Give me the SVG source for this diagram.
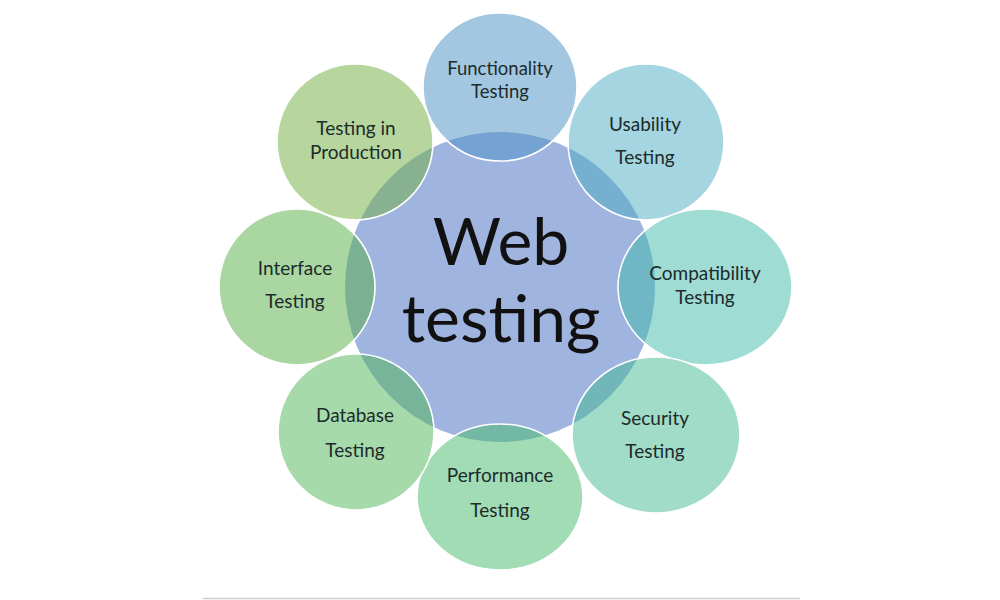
<svg xmlns="http://www.w3.org/2000/svg" width="1000" height="600" viewBox="0 0 1000 600">
<style>
.outer{stroke:#ffffff;stroke-width:1.6;fill-opacity:0.5}
.lbl{font-family:Lato,"Open Sans","Liberation Sans",sans-serif;font-size:19px;fill:#1c2b2b;text-anchor:middle}
.big{font-family:Lato,"Open Sans","Liberation Sans",sans-serif;font-size:66px;fill:#111111;text-anchor:middle}
</style>
<rect x="0" y="0" width="1000" height="600" fill="#ffffff"/>
<line x1="203" y1="598.5" x2="800" y2="598.5" stroke="#cfcfcf" stroke-width="1.5"/>
<g id="center">
<circle cx="500" cy="287" r="155" fill="#a0b4e0"/>
</g>
<g id="functionality">
<ellipse class="outer" cx="500" cy="87" rx="77" ry="74" fill="#478fc3"/>
<text class="lbl" x="500" y="75" style="font-size:18.5px">Functionality</text>
<text class="lbl" x="500" y="98" style="font-size:18.5px">Testing</text>
</g>
<g id="usability">
<ellipse class="outer" cx="646" cy="142" rx="78" ry="78" fill="#4babc1"/>
<text class="lbl" x="645" y="131">Usability</text>
<text class="lbl" x="645" y="164">Testing</text>
</g>
<g id="compatibility">
<ellipse class="outer" cx="705" cy="287" rx="87" ry="78" fill="#3db9a9"/>
<text class="lbl" x="705" y="280">Compatibility</text>
<text class="lbl" x="705" y="304">Testing</text>
</g>
<g id="security">
<ellipse class="outer" cx="656" cy="435" rx="84" ry="78" fill="#41b991"/>
<text class="lbl" x="655" y="425">Security</text>
<text class="lbl" x="655" y="458">Testing</text>
</g>
<g id="performance">
<ellipse class="outer" cx="500" cy="497" rx="83" ry="73" fill="#45b969"/>
<text class="lbl" x="500" y="482">Performance</text>
<text class="lbl" x="500" y="517">Testing</text>
</g>
<g id="database">
<ellipse class="outer" cx="356" cy="432" rx="78" ry="78" fill="#4db555"/>
<text class="lbl" x="355" y="422">Database</text>
<text class="lbl" x="355" y="457">Testing</text>
</g>
<g id="interface">
<ellipse class="outer" cx="297" cy="287" rx="78" ry="78" fill="#55ad45"/>
<text class="lbl" x="295" y="275">Interface</text>
<text class="lbl" x="295" y="308">Testing</text>
</g>
<g id="production">
<ellipse class="outer" cx="355" cy="142" rx="78" ry="78" fill="#6dad3d"/>
<text class="lbl" x="356" y="135">Testing in</text>
<text class="lbl" x="356" y="159">Production</text>
</g>
<g id="title">
<text class="big" x="501" y="265">Web</text>
<text class="big" x="501" y="342">testing</text>
</g>
<g id="connectors"></g>
</svg>
